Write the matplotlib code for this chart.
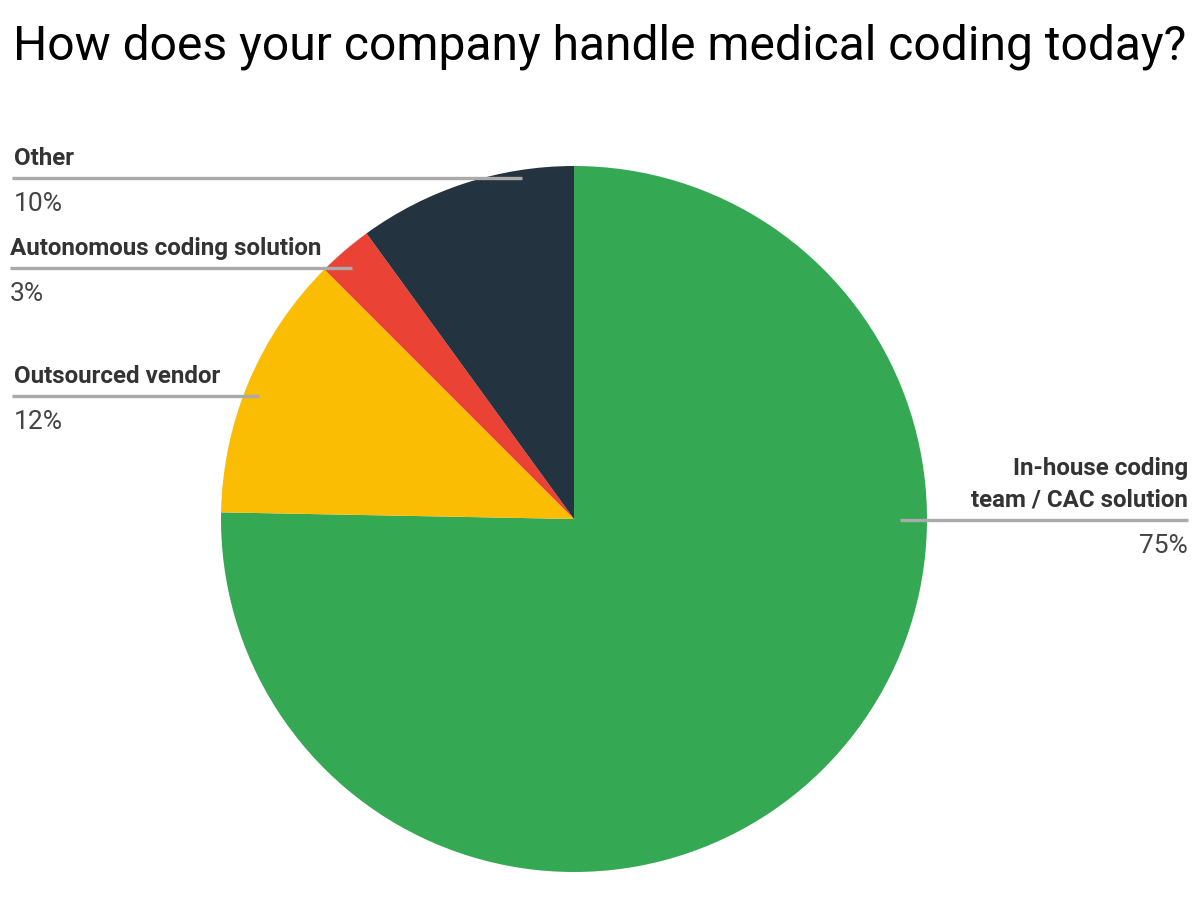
import matplotlib
matplotlib.use('Agg')
import matplotlib.pyplot as plt

# survey shares (percent), clockwise from 12 o'clock
labels = ['In-house coding\nteam / CAC solution', 'Outsourced vendor',
          'Autonomous coding solution', 'Other']
shares = [75.3, 12.2, 2.5, 10.0]
colors = ['#34A853', '#FBBC04', '#EA4335', '#243340']

W, H = 1200, 900
LINE = '#AAAAAA'
TXT = '#333333'
plt.rcParams['font.family'] = ['Roboto', 'DejaVu Sans']

fig = plt.figure(figsize=(W / 100, H / 100), dpi=100)
fig.text(600 / W, 1 - 47 / H, 'How does your company handle medical coding today?',
         ha='center', va='center', fontsize=34.6, color='black')

# pie area: centre (574, 519) px, radius 353 px
cx, cy, r = 574, 519, 353
ax = fig.add_axes([(cx - r) / W, 1 - (cy + r) / H, 2 * r / W, 2 * r / H])
ax.pie(shares, colors=colors, startangle=90, counterclock=False, radius=1,
       wedgeprops=dict(linewidth=0))
ax.set_xlim(-1, 1)
ax.set_ylim(-1, 1)
ax.set_aspect('equal')
ax.axis('off')


def px(x, y):
    return x / W, 1 - y / H


# leader layout: (x0, x1, line y, text x, align)
layout = [
    (900, 1188, 520, 1188, 'right'),
    (12, 259, 396, 14, 'left'),
    (10, 352, 268, 10, 'left'),
    (12, 522, 178, 14, 'left'),
]
for lab, v, (x0, x1, ly, tx, ha) in zip(labels, shares, layout):
    fig.add_artist(plt.Line2D([x0 / W, x1 / W], [1 - ly / H] * 2, color=LINE,
                              linewidth=2.4, solid_capstyle='butt'))
    fig.text(*px(tx, ly - 8), lab, ha=ha, va='bottom', fontsize=17.4,
             fontweight='bold', color=TXT, linespacing=1.5)
    fig.text(*px(tx, ly + 26), f'{int(v + 0.5)}%', ha=ha, va='center', fontsize=19,
             color='#444444')

fig.savefig('out.png', dpi=100, facecolor='white')
